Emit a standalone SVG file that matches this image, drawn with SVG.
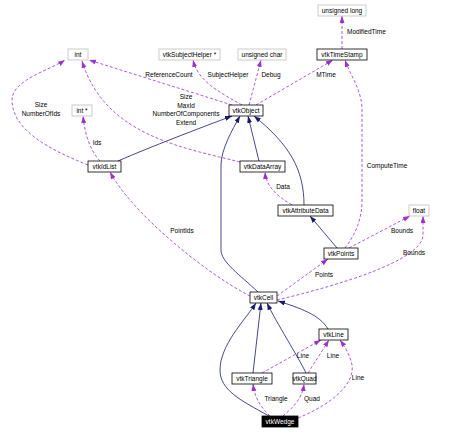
<svg xmlns="http://www.w3.org/2000/svg" width="474" height="434" viewBox="0 0 474 434">
<defs>
<marker id="ah" markerUnits="userSpaceOnUse" markerWidth="8" markerHeight="6" refX="7" refY="2.5" orient="auto"><path d="M0,0 L7,2.5 L0,5 z" fill="#191970"/></marker>
<marker id="ap" markerUnits="userSpaceOnUse" markerWidth="8" markerHeight="6" refX="7" refY="2.5" orient="auto"><path d="M0,0 L7,2.5 L0,5 z" fill="#9a32cd"/></marker>
</defs>
<style>
text{font-family:"Liberation Sans",Arial,sans-serif;font-size:6.5px;fill:#000}
.n rect{fill:#fff;stroke:#000;stroke-width:0.8}
.g rect{fill:#fff;stroke:#bfbfbf;stroke-width:0.8}
.n text,.g text{text-anchor:middle}
.inh{fill:none;stroke:#191970;stroke-width:0.8;marker-end:url(#ah)}
.use{fill:none;stroke:#9a32cd;stroke-width:0.8;stroke-dasharray:3,2;marker-end:url(#ap)}
.lbl{text-anchor:middle}
</style>
<rect width="474" height="434" fill="#fff"/>
<g id="connectors">
<path class="inh" d="M118,161 C150,147 200,128 232,116"/>
<path class="inh" d="M259,161 L248,116"/>
<path class="inh" d="M304,205 C304,170 290,145 254,116"/>
<path class="inh" d="M258,292 C240,275 221,262 221,250 L221,165 C221,150 232,130 240,116"/>
<path class="inh" d="M337,248 L310,216"/>
<path class="inh" d="M253,373 L261,303"/>
<path class="inh" d="M306,373 C300,360 275,320 267,303"/>
<path class="inh" d="M328,329 C320,315 300,308 278,301"/>
<path class="inh" d="M269,416 C240,400 220,390 220,370 C220,345 245,320 256,303"/>
<path class="use" d="M342,49 L342,16"/>
<path class="use" d="M256,105 L333,60"/>
<path class="use" d="M249,105 L261,60"/>
<path class="use" d="M242,105 C215,90 198,80 193,60"/>
<path class="use" d="M232,105 L89,60"/>
<path class="use" d="M240,162 C180,147 105,135 82,61"/>
<path class="use" d="M88,165 C50,150 12,130 12,100 C12,80 50,70 65,60"/>
<path class="use" d="M100,161 C90,150 85,135 83,116"/>
<path class="use" d="M250,296 C200,270 130,210 110,172"/>
<path class="use" d="M292,205 C275,195 266,185 265,172"/>
<path class="use" d="M345,248 C355,235 362,220 362,200 L362,110 C362,90 350,75 345,60"/>
<path class="use" d="M349,248 L410,216"/>
<path class="use" d="M277,296 L328,259"/>
<path class="use" d="M277,300 C340,285 423,260 423,235 L423,216"/>
<path class="use" d="M262,373 L321,340"/>
<path class="use" d="M308,373 L329,340"/>
<path class="use" d="M298,418 C330,405 355,385 352,365 C350,355 345,347 340,340"/>
<path class="use" d="M270,416 C262,408 255,400 253,384"/>
<path class="use" d="M283,416 C292,408 302,400 304,384"/>
<text class="lbl" x="347" y="34" style="text-anchor:start">ModifiedTime</text>
<text class="lbl" x="326" y="77">MTime</text>
<text class="lbl" x="271" y="77">Debug</text>
<text class="lbl" x="228" y="77">SubjectHelper</text>
<text class="lbl" x="169" y="77">ReferenceCount</text>
<text class="lbl" x="186" y="99">Size</text>
<text class="lbl" x="186" y="107.5">MaxId</text>
<text class="lbl" x="186" y="116">NumberOfComponents</text>
<text class="lbl" x="186" y="124.5">Extend</text>
<text class="lbl" x="41" y="107">Size</text>
<text class="lbl" x="41" y="116">NumberOfIds</text>
<text class="lbl" x="97" y="145">Ids</text>
<text class="lbl" x="182" y="233">PointIds</text>
<text class="lbl" x="283" y="189">Data</text>
<text class="lbl" x="387" y="168">ComputeTime</text>
<text class="lbl" x="402" y="233">Bounds</text>
<text class="lbl" x="414" y="255">Bounds</text>
<text class="lbl" x="324" y="277">Points</text>
<text class="lbl" x="303" y="358">Line</text>
<text class="lbl" x="333" y="358">Line</text>
<text class="lbl" x="358" y="380">Line</text>
<text class="lbl" x="276" y="401">Triangle</text>
<text class="lbl" x="312" y="401">Quad</text>
</g>
<g id="unsigned_long" class="g"><rect x="318" y="5" width="48" height="11"/><text x="342" y="12.8">unsigned long</text></g>
<g id="vtkTimeStamp" class="n"><rect x="317" y="49" width="50" height="11"/><text x="342" y="56.8">vtkTimeStamp</text></g>
<g id="unsigned_char" class="g"><rect x="238" y="49" width="48" height="11"/><text x="262" y="56.8">unsigned char</text></g>
<g id="vtkSubjectHelper_ptr" class="g"><rect x="159" y="49" width="61" height="11"/><text x="189.5" y="56.8">vtkSubjectHelper *</text></g>
<g id="int" class="g"><rect x="68" y="49" width="20" height="11"/><text x="78" y="56.8">int</text></g>
<g id="int_ptr" class="g"><rect x="72" y="105" width="20" height="11"/><text x="82" y="112.8">int *</text></g>
<g id="vtkObject" class="n"><rect x="229" y="105" width="34" height="11"/><text x="246" y="112.8">vtkObject</text></g>
<g id="vtkIdList" class="n"><rect x="88" y="161" width="33" height="11"/><text x="104.5" y="168.8">vtkIdList</text></g>
<g id="vtkDataArray" class="n"><rect x="240" y="161" width="45" height="11"/><text x="262.5" y="168.8">vtkDataArray</text></g>
<g id="vtkAttributeData" class="n"><rect x="278" y="205" width="55" height="11"/><text x="305.5" y="212.8">vtkAttributeData</text></g>
<g id="float" class="g"><rect x="409" y="205" width="20" height="11"/><text x="419" y="212.8">float</text></g>
<g id="vtkPoints" class="n"><rect x="324" y="248" width="34" height="11"/><text x="341" y="255.8">vtkPoints</text></g>
<g id="vtkCell" class="n"><rect x="250" y="292" width="27" height="11"/><text x="263.5" y="299.8">vtkCell</text></g>
<g id="vtkLine" class="n"><rect x="319" y="329" width="29" height="11"/><text x="333.5" y="336.8">vtkLine</text></g>
<g id="vtkTriangle" class="n"><rect x="232" y="373" width="40" height="11"/><text x="252" y="380.8">vtkTriangle</text></g>
<g id="vtkQuad" class="n"><rect x="293" y="373" width="23" height="11"/><text x="304.5" y="380.8">vtkQuad</text></g>
<g id="vtkWedge"><rect x="262" y="416" width="36" height="11" fill="#000" stroke="#000" stroke-width="0.8"/><text x="280" y="423.8" style="fill:#fff;text-anchor:middle">vtkWedge</text></g>
</svg>
